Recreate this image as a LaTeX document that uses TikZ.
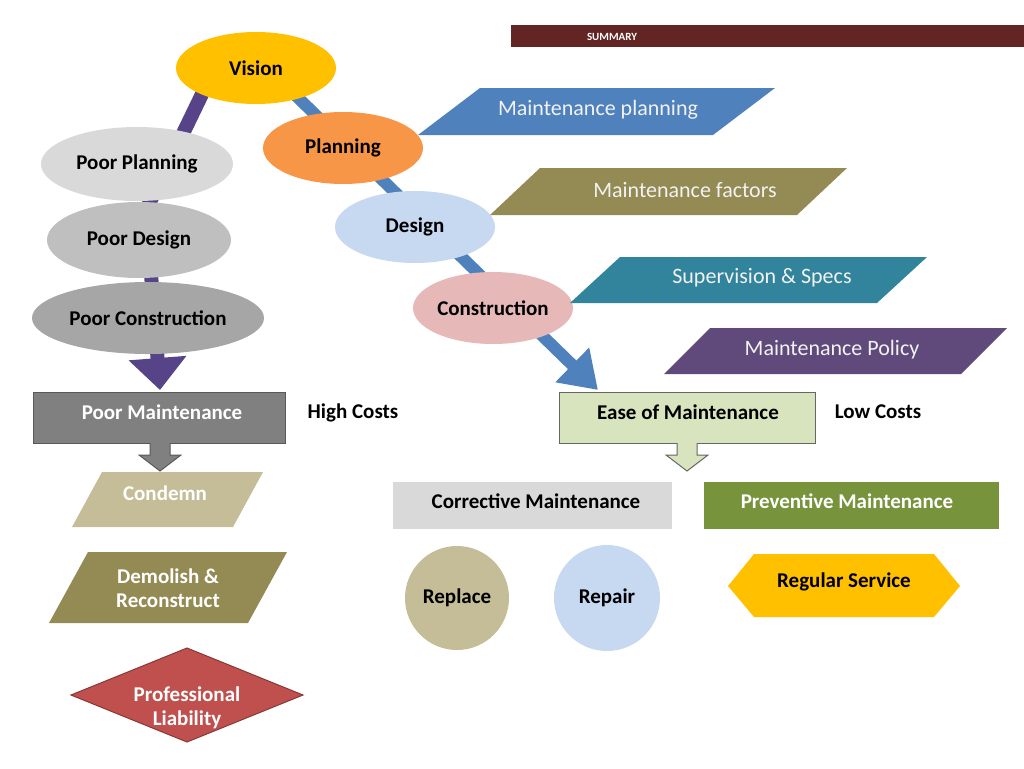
\documentclass[tikz,border=0pt]{standalone}
\usepackage{fontspec}
\setmainfont{Carlito}
\usetikzlibrary{arrows.meta,shapes.geometric}
\definecolor{sumred}{HTML}{632523}
\definecolor{cvision}{HTML}{FFC000}
\definecolor{cplan}{HTML}{F79646}
\definecolor{cdesign}{HTML}{C6D9F1}
\definecolor{cconst}{HTML}{E6B9B8}
\definecolor{cblue}{HTML}{4F81BD}
\definecolor{colive}{HTML}{948A54}
\definecolor{cteal}{HTML}{31849B}
\definecolor{cpurple}{HTML}{604A7B}
\definecolor{ctan}{HTML}{C4BD97}
\definecolor{cgreen}{HTML}{77933C}
\definecolor{clgreen}{HTML}{D7E4BD}
\definecolor{cred}{HTML}{C0504D}
\begin{document}
\begin{tikzpicture}[x=1pt,y=-1pt,
  ell/.style={ellipse,minimum width=#1,inner sep=0pt,font=\fontsize{21}{24}\selectfont\bfseries},
  para/.style={font=\fontsize{22}{26}\selectfont,text=white!95!black},
  bt/.style={font=\fontsize{21}{24}\selectfont\bfseries}]
\useasboundingbox (0,0) rectangle (1024,768);
% summary bar
\fill[sumred] (511,25) rectangle (1024,47);
\node[text=white,font=\fontsize{11}{13}\selectfont\bfseries] (sum) at (612,37) {SUMMARY};
% main arrows
\coordinate (la) at (205,88); \coordinate (lb) at (146,210); \coordinate (lc) at (160,390);
\draw[line width=14pt,cpurple!90!blue,-{Triangle[length=32pt,width=56pt]}] (la) -- (lb) -- (lc);
\coordinate (ra) at (288,88); \coordinate (rb) at (598,390);
\draw[line width=12pt,cblue,-{Triangle[length=36pt,width=46pt]}] (ra) -- (rb);
% ellipses
\node[ell=160pt,minimum height=72pt,fill=cvision] (vision) at (256,68) {Vision};
\node[ell=160pt,minimum height=72pt,fill=cplan] (planning) at (343,148) {Planning};
\node[ell=160pt,minimum height=72pt,fill=cdesign] (design) at (415,227) {Design};
\node[ell=160pt,minimum height=72pt,fill=cconst] (construction) at (493,308) {Construction};
\node[ell=192pt,minimum height=74pt,fill=black!15] (pplan) at (137,164) {Poor Planning};
\node[ell=184pt,minimum height=76pt,fill=black!25] (pdesign) at (139,240) {Poor Design};
\node[ell=232pt,minimum height=72pt,fill=black!35] (pconst) at (148,318) {Poor Construction};
% parallelograms
\fill[cblue] (418,135) -- (480,88) -- (775,88) -- (713,135) -- cycle;
\node[para] (mp) at (598,110) {Maintenance planning};
\fill[colive] (490,215) -- (540,168) -- (847,168) -- (797,215) -- cycle;
\node[para] (mf) at (685,190) {Maintenance factors};
\fill[cteal] (570,303) -- (620,257) -- (927,257) -- (877,303) -- cycle;
\node[para] (ss) at (762,278) {Supervision \& Specs};
\fill[cpurple] (664,374) -- (710,328) -- (1007,328) -- (961,374) -- cycle;
\node[para] (mpol) at (832,350) {Maintenance Policy};
% poor maintenance
\draw[fill=black!50,draw=black!65,line width=1pt] (33,392) rectangle (285,443);
\node[bt,text=white] (pm) at (162,412) {Poor Maintenance};
\draw[fill=black!50,draw=black!65,line width=1pt] (150,443) -- (150,455) -- (139,455) -- (160,471) -- (181,455) -- (170,455) -- (170,443);
\node[bt] (hc) at (353,413) {High Costs};
% ease of maintenance
\draw[fill=clgreen,draw=black!60,line width=1pt] (559,392) rectangle (815,443);
\node[bt] (em) at (688,412) {Ease of Maintenance};
\draw[fill=clgreen,draw=black!60,line width=1pt] (677,443) -- (677,455) -- (666,455) -- (687,471) -- (708,455) -- (697,455) -- (697,443);
\node[bt] (lcst) at (878,412) {Low Costs};
% left outcomes
\fill[ctan] (72,527) -- (102,472) -- (263,472) -- (233,527) -- cycle;
\node[bt,text=white] (cond) at (165,493) {Condemn};
\fill[colive] (49,623) -- (88,552) -- (287,552) -- (248,623) -- cycle;
\node[bt,text=white,align=center] (dem) at (168,588) {Demolish \&\\Reconstruct};
\draw[fill=cred,draw=cred!70!black,line width=1pt] (71,695) -- (187,648) -- (303,695) -- (187,742) -- cycle;
\node[bt,text=white,align=center] (pl) at (187,708) {Professional\\Liability};
% right outcomes
\fill[black!15] (393,482) rectangle (672,529);
\node[bt] (cm) at (536,501) {Corrective Maintenance};
\fill[cgreen] (704,482) rectangle (999,529);
\node[bt,text=white] (pvm) at (847,501) {Preventive Maintenance};
\node[circle,minimum size=104pt,inner sep=0pt,fill=ctan,bt] (rep) at (457,598) {Replace};
\node[circle,minimum size=106pt,inner sep=0pt,fill=cdesign,bt] (rpr) at (607,598) {Repair};
\fill[cvision] (728,586) -- (754,554) -- (934,554) -- (960,586) -- (934,617) -- (754,617) -- cycle;
\node[bt] (rs) at (844,582) {Regular Service};
\end{tikzpicture}
\end{document}
